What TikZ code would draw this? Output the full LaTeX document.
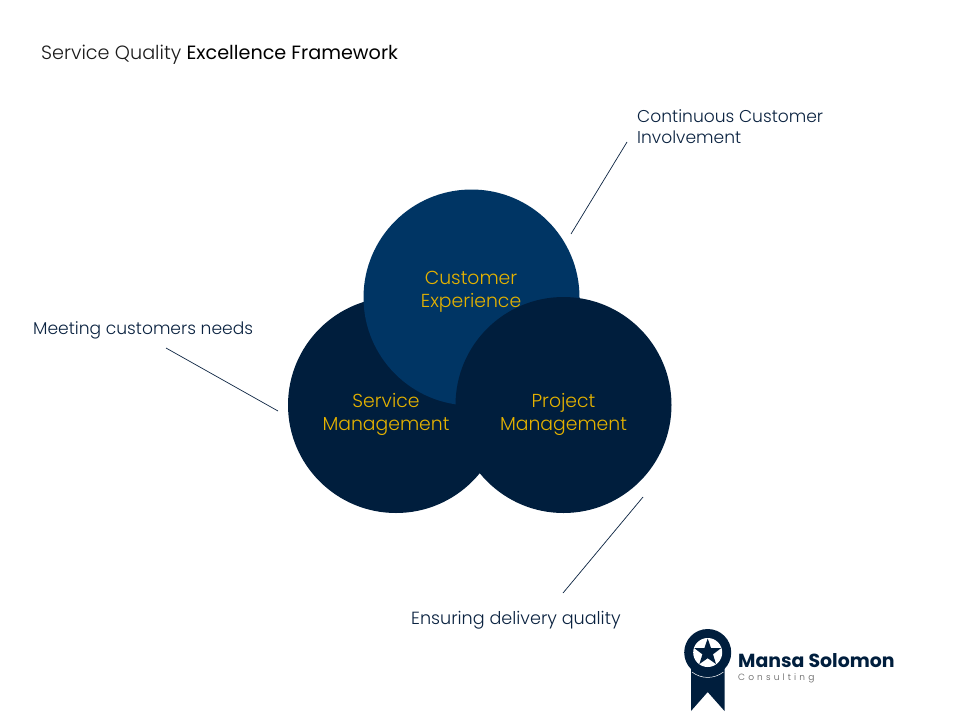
\documentclass[tikz,border=0pt]{standalone}
\usepackage{fontspec}
\setmainfont{Poppins}
\newfontfamily\lightf{Poppins Light}
\definecolor{navy}{HTML}{001E3D}
\definecolor{midblue}{HTML}{003564}
\definecolor{gold}{HTML}{E5B200}
\definecolor{labelc}{HTML}{0A2240}
\definecolor{titlec}{HTML}{1A1A1A}
\tikzset{
  x=1pt,y=-1pt,
  venn/.style={circle,minimum size=216pt,inner sep=0pt},
  vtext/.style={inner sep=0pt,text=gold,align=center,font=\lightf\fontsize{18.8}{23}\selectfont},
  lab/.style={anchor=west,inner sep=0pt,text=labelc,align=left,font=\lightf\fontsize{17.1}{20.5}\selectfont},
  lead/.style={draw=labelc,line width=0.7pt}
}
\begin{document}
\begin{tikzpicture}
\useasboundingbox (0,0) rectangle (960,720);
\node[anchor=west,inner sep=0pt,text=titlec,font=\lightf\fontsize{19.2}{22}\selectfont] (title) at (41,55) {Service Quality {\rmfamily\textcolor{black}{Excellence Framework}}};
\node[venn,fill=navy] (sm) at (396,405) {};
\node[venn,fill=midblue] (ce) at (471.5,297.5) {};
\node[venn,fill=navy] (pm) at (563.5,405) {};
\node[vtext] (smt) at (386,414) {Service\\Management};
\node[vtext] (cet) at (471,291.5) {Customer\\Experience};
\node[vtext] (pmt) at (563.5,414) {Project\\Management};
\node[lab] (l1) at (637,126.5) {Continuous Customer\\Involvement};
\node[lab] (l2) at (33,330.5) {Meeting customers needs};
\node[lab,font=\lightf\fontsize{17.6}{20.5}\selectfont] (l3) at (411,620.5) {Ensuring delivery quality};
\coordinate (a1) at (627,142); \coordinate (b1) at (571,234);
\coordinate (a2) at (166,348); \coordinate (b2) at (278,411);
\coordinate (a3) at (563,593); \coordinate (b3) at (643,497);
\draw[lead] (a1) -- (b1);
\draw[lead] (a2) -- (b2);
\draw[lead] (a3) -- (b3);
% logo
\fill[navy] (691,668) -- (724.5,668) -- (724.5,711) -- (707.7,692) -- (691,711) -- cycle;
\fill[navy] (707.7,652.5) circle (23.5);
\draw[white,line width=0.5pt] (692,672) arc[start angle=128,end angle=52,radius=25.5];
\fill[white] (707.7,652.5) circle (14.5);
\fill[navy] (707.7,638.5) -- (711,648) -- (721,648.2) -- (713,654.3) -- (716,664) -- (707.7,658.2) -- (699.4,664) -- (702.4,654.3) -- (694.4,648.2) -- (704.4,648) -- cycle;
\node[anchor=west,inner sep=0pt,text=navy,font=\fontsize{18.9}{22}\selectfont\bfseries] (brand) at (738,661) {Mansa Solomon};
\node[anchor=west,inner sep=0pt,text=black!65,font=\lightf\fontsize{9}{11}\selectfont] (sub) at (738,678) {\addfontfeatures{LetterSpace=35}Consulting};
\end{tikzpicture}
\end{document}
